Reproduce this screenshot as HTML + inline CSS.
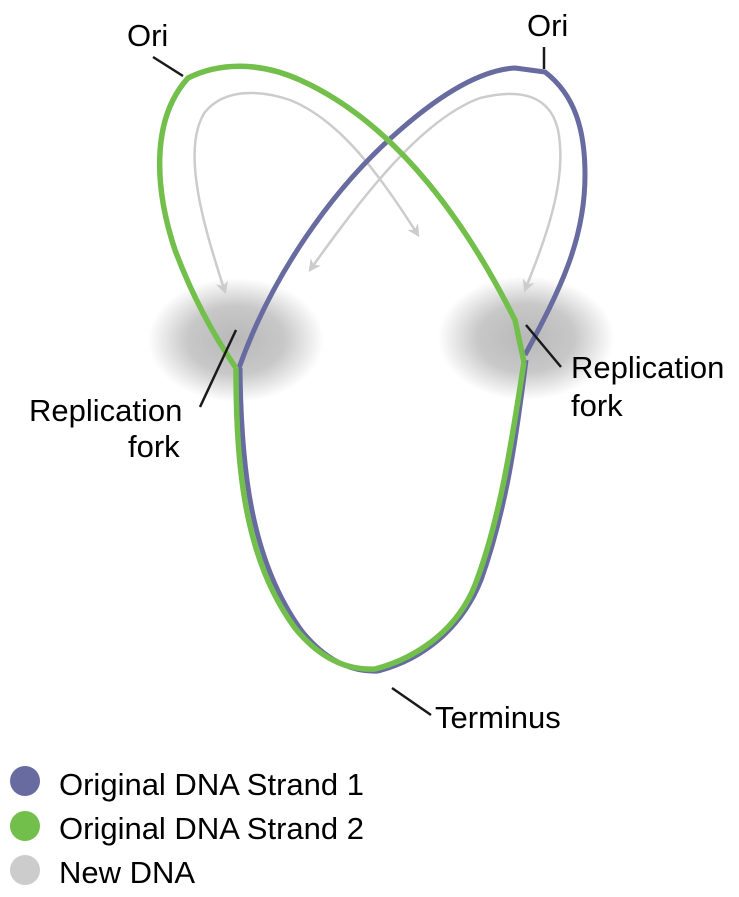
<!DOCTYPE html>
<html><head><meta charset="utf-8"><style>
html,body{margin:0;padding:0;background:#fff;}
svg{display:block}
text{font-family:"Liberation Sans",Arial,sans-serif;font-size:31px;fill:#000}
</style></head><body>
<svg width="739" height="897" viewBox="0 0 739 897" xmlns="http://www.w3.org/2000/svg">
<defs>
<radialGradient id="g" cx="50%" cy="50%" r="50%">
<stop offset="0" stop-color="#b8b8b8"/>
<stop offset="0.55" stop-color="#c8c8c8"/>
<stop offset="1" stop-color="#c8c8c8" stop-opacity="0"/>
</radialGradient>
<marker id="ah" viewBox="0 0 10 10" refX="8" refY="5" markerWidth="5" markerHeight="5" orient="auto-start-reverse">
<path d="M0,0 L10,5 L0,10 L3,5 z" fill="#cccccc"/>
</marker>
</defs>
<ellipse cx="236" cy="340" rx="88" ry="62" fill="url(#g)"/>
<ellipse cx="526" cy="338" rx="88" ry="62" fill="url(#g)"/>
<path d="M225,292 C205,230 180,150 205,112 C225,88 260,90 290,100 C340,120 380,175 418,235" fill="none" stroke="#cccccc" stroke-width="2.5" marker-start="url(#ah)" marker-end="url(#ah)"/>
<path d="M310,270 C360,200 420,120 480,98 C520,88 550,95 558,130 C568,180 545,240 525,290" fill="none" stroke="#cccccc" stroke-width="2.5" marker-start="url(#ah)" marker-end="url(#ah)"/>
<path d="M240,368 C241,470 251,560 301,630 C331,668 361,672 378,671 C421,660 461,630 481,580 C506,510 516,440 526,360" fill="none" stroke="#676b9f" stroke-width="5"/>
<path d="M239,368 C270,280 330,190 400,130 C440,95 480,70 515,68 L545,72 C575,95 585,130 585,175 C585,240 560,290 525,355" fill="none" stroke="#676b9f" stroke-width="5" stroke-linejoin="round"/>
<path d="M236,368 C210,330 190,290 175,250 C155,190 150,120 188,78 C220,62 260,62 300,80 C400,125 470,230 515,320 L524,362" fill="none" stroke="#73bf4b" stroke-width="5.5" stroke-linejoin="round"/>
<path d="M236,368 C236,470 245,560 295,628 C325,665 355,670 375,669 C410,660 455,635 475,585 C500,520 512,440 524,362" fill="none" stroke="#73bf4b" stroke-width="5.5"/>
<g stroke="#1a1a1a" stroke-width="2.5">
<line x1="153" y1="57" x2="183" y2="76"/>
<line x1="544" y1="47" x2="544" y2="69"/>
<line x1="236" y1="330" x2="200" y2="407"/>
<line x1="526" y1="325" x2="561" y2="367"/>
<line x1="392" y1="688" x2="431" y2="715"/>
</g>
<text x="127" y="46">Ori</text>
<text x="527" y="36">Ori</text>
<text x="29" y="421">Replication</text>
<text x="128" y="457">fork</text>
<text x="571" y="378">Replication</text>
<text x="571" y="416">fork</text>
<text x="435" y="728">Terminus</text>
<circle cx="25" cy="781" r="15" fill="#676b9f"/>
<circle cx="25" cy="826" r="15" fill="#73bf4b"/>
<circle cx="25" cy="870" r="15" fill="#cccccc"/>
<text x="59" y="795">Original DNA Strand 1</text>
<text x="59" y="839">Original DNA Strand 2</text>
<text x="59" y="883">New DNA</text>
</svg>
</body></html>
